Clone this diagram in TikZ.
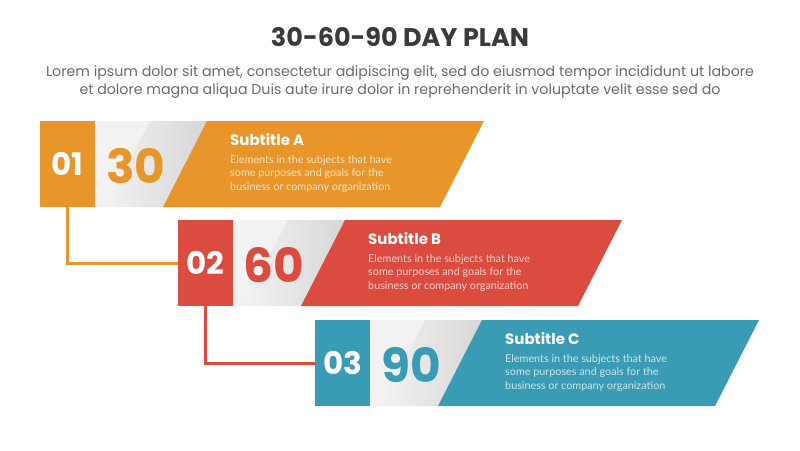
\documentclass[tikz,border=0pt]{standalone}
\usepackage{fontspec}
\setmainfont{Poppins}
\newfontfamily\lato{Lato}
\definecolor{c1}{HTML}{E8952A}
\definecolor{c2}{HTML}{DB4B3F}
\definecolor{c3}{HTML}{3A9BB5}
\definecolor{titlegrey}{HTML}{3A3A3A}
\definecolor{textgrey}{HTML}{6A6A6A}
\definecolor{panelgrey}{HTML}{F2F2F2}
\tikzset{
  numbox/.style={minimum width=55pt,minimum height=86pt,inner sep=0pt,text=white,font=\fontsize{31}{31}\selectfont\bfseries},
  daytext/.style={inner sep=0pt,font=\fontsize{47}{47}\selectfont\bfseries},
  subtitle/.style={anchor=west,inner sep=0pt,text=white,font=\fontsize{15}{15}\selectfont\bfseries},
  bodytext/.style={anchor=north west,inner sep=0pt,align=left,font=\lato\fontsize{10.8}{13.6}\selectfont},
  conn/.style={line width=3pt}
}
\begin{document}
\begin{tikzpicture}[x=1pt,y=-1pt]
\useasboundingbox[fill=white] (0,0) rectangle (800,450);
\node[text=titlegrey,font=\fontsize{25.5}{25.5}\selectfont\bfseries] (title) at (400,37) {30-60-90 DAY PLAN};
\node[text=textgrey,align=center,font=\fontsize{14.2}{17.5}\selectfont] (intro) at (400,82)
  {Lorem ipsum dolor sit amet, consectetur adipiscing elit, sed do eiusmod tempor incididunt ut labore\\
   et dolore magna aliqua Duis aute irure dolor in reprehenderit in voluptate velit esse sed do};
\foreach \i/\xo/\yo/\col/\days/\ltr in {1/40/121/c1/30/A,2/178/220/c2/60/B,3/315/320/c3/90/C}{
  \begin{scope}[shift={(\xo,\yo)}]
    \fill[panelgrey] (55,0) rectangle (200,86);
    \begin{scope}[xslant=0.5116]
      \shade[left color=panelgrey,right color=black!16] (110,0) rectangle (168,86);
    \end{scope}
    \fill[\col] (167,0) -- (444,0) -- (400,86) -- (123,86) -- cycle;
    \node[numbox,fill=\col] (n\i) at (27.5,43) {0\i};
    \node[daytext,text=\col] (d\i) at (96,45) {\days};
    \node[subtitle] (s\i) at (190,19) {Subtitle \ltr};
    \node[bodytext,text=white!75!\col] (b\i) at (190,34)
      {Elements in the subjects that have\\some purposes and goals for the\\business or company organization};
  \end{scope}
}
\draw[conn,c1] (n1.south) |- (n2.west);
\draw[conn,c2] (n2.south) |- (n3.west);
\end{tikzpicture}
\end{document}
